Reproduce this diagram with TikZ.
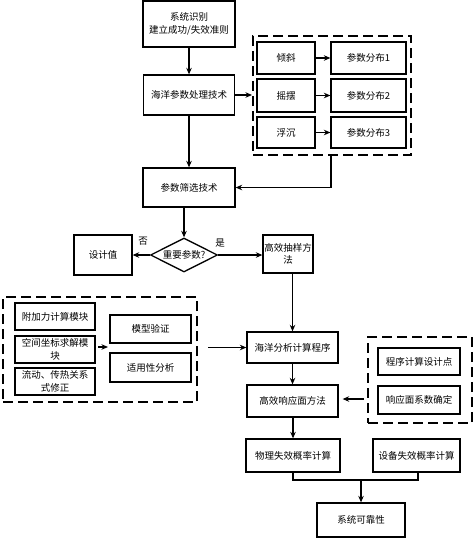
\documentclass[tikz,border=0pt]{standalone}
\usepackage{fontspec}
\setmainfont{Noto Sans CJK SC}
\usetikzlibrary{shapes.geometric,arrows.meta,positioning}
\tikzset{
  box/.style={draw, line width=1.3pt, align=center, inner sep=0.5pt, font=\fontsize{9.5}{12.5}\selectfont},
  grp/.style={draw, line width=2pt, dash pattern=on 10pt off 5pt},
  arr/.style={line width=1.3pt, -{Stealth[length=6.5pt,width=5.5pt]}},
  ln/.style={line width=1.3pt},
  lbl/.style={font=\fontsize{9.5}{11}\selectfont, inner sep=0pt}
}
\begin{document}
\begin{tikzpicture}[x=1pt,y=-1pt]
\path[use as bounding box, fill=white] (0,0) rectangle (474,538);
% top
\node[box, minimum width=92pt, minimum height=46pt] (A) at (189,24) {系统识别\\建立成功/失效准则};
\node[box, minimum width=91pt, minimum height=40pt] (B) at (189,95) {海洋参数处理技术};
% group 1
\node[grp, minimum width=158pt, minimum height=119pt] (G1) at (332,95.5) {};
\node[box, minimum width=58pt, minimum height=32pt] (P1) at (286,58) {倾斜};
\node[box, minimum width=58pt, minimum height=33pt] (P2) at (286,95.5) {摇摆};
\node[box, minimum width=58pt, minimum height=31pt] (P3) at (286,132.5) {浮沉};
\node[box, minimum width=75pt, minimum height=32pt] (D1) at (368.5,58) {参数分布1};
\node[box, minimum width=75pt, minimum height=33pt] (D2) at (368.5,95.5) {参数分布2};
\node[box, minimum width=75pt, minimum height=31pt] (D3) at (368.5,132.5) {参数分布3};
\draw[arr] (P1) -- (D1);
\draw[arr] (P2) -- (D2);
\draw[arr] (P3) -- (D3);
\draw[arr] (A) -- (B);
\draw[arr] (B.east) -- (G1.west |- B.east);
% screening
\node[box, minimum width=92pt, minimum height=39pt] (C) at (189,187.5) {参数筛选技术};
\draw[arr] (B) -- (C);
\coordinate (c1) at (331,187.5);
\draw[arr] (G1.south -| c1) -- (c1) -- (C.east);
% decision
\node[draw, diamond, aspect=2, line width=1.3pt, minimum width=67pt, minimum height=34pt, inner sep=0pt, font=\fontsize{9.5}{11}\selectfont] (Q) at (184,255) {重要参数?};
\draw[arr] (C.south -| Q.north) -- (Q.north);
\node[box, minimum width=58pt, minimum height=40pt] (E) at (103,255) {设计值};
\node[box, minimum width=50pt, minimum height=38pt] (F) at (288,254) {高效抽样方\\法};
\draw[arr] (Q.west) -- (E.east);
\draw[arr] (Q.east) -- (F.west |- Q.east);
\node[lbl] (no) at (143,241) {否};
\node[lbl] (yes) at (220,243) {是};
% analysis
\node[box, minimum width=91pt, minimum height=31pt] (H) at (292.5,347.5) {海洋分析计算程序};
\node[box, minimum width=91pt, minimum height=32pt] (I) at (292.5,401) {高效响应面方法};
\draw[arr] (F.south -| H.north) -- (H.north);
\draw[arr] (H) -- (I);
% left group
\node[grp, minimum width=194pt, minimum height=105pt] (G3) at (100,349.5) {};
\node[box, minimum width=80pt, minimum height=27pt] (M1) at (55,316.5) {附加力计算模块};
\node[box, minimum width=80pt, minimum height=27pt] (M2) at (55,349.5) {空间坐标求解模\\块};
\node[box, minimum width=80pt, minimum height=27pt] (M3) at (55,381.5) {流动、传热关系\\式修正};
\node[box, minimum width=81pt, minimum height=28pt] (N1) at (150.5,329) {模型验证};
\node[box, minimum width=81pt, minimum height=29pt] (N2) at (150.5,367.5) {适用性分析};
\coordinate (s1) at (98,347);
\coordinate (s2) at (108,347);
\draw[arr] (s1) -- (s2);
\draw[arr, shorten <=10pt] (G3.east |- H.west) -- (H.west);
% right group
\node[grp, minimum width=104pt, minimum height=86pt] (G2) at (420,380) {};
\node[box, minimum width=82pt, minimum height=27pt] (R1) at (419,361.5) {程序计算设计点};
\node[box, minimum width=82pt, minimum height=28pt] (R2) at (419,400) {响应面系数确定};
\draw[arr, shorten <=3pt, shorten >=4pt] (G2.west |- 0,399) -- (I.east |- 0,399);
% probabilities
\node[box, minimum width=94pt, minimum height=33pt] (J) at (293,455.5) {物理失效概率计算};
\node[box, minimum width=87pt, minimum height=33pt] (K) at (416.5,455.5) {设备失效概率计算};
\draw[arr] (I.south -| J.north) -- (J.north);
\node[box, minimum width=88pt, minimum height=34pt] (L) at (361,520) {系统可靠性};
\coordinate (m1) at (293,480);
\coordinate (m2) at (418,480);
\coordinate (m3) at (361,480);
\draw[ln] (J.south -| m1) -- (m1) -- (m2) -- (K.south -| m2);
\draw[arr] (m3) -- (L.north);
\end{tikzpicture}
\end{document}
